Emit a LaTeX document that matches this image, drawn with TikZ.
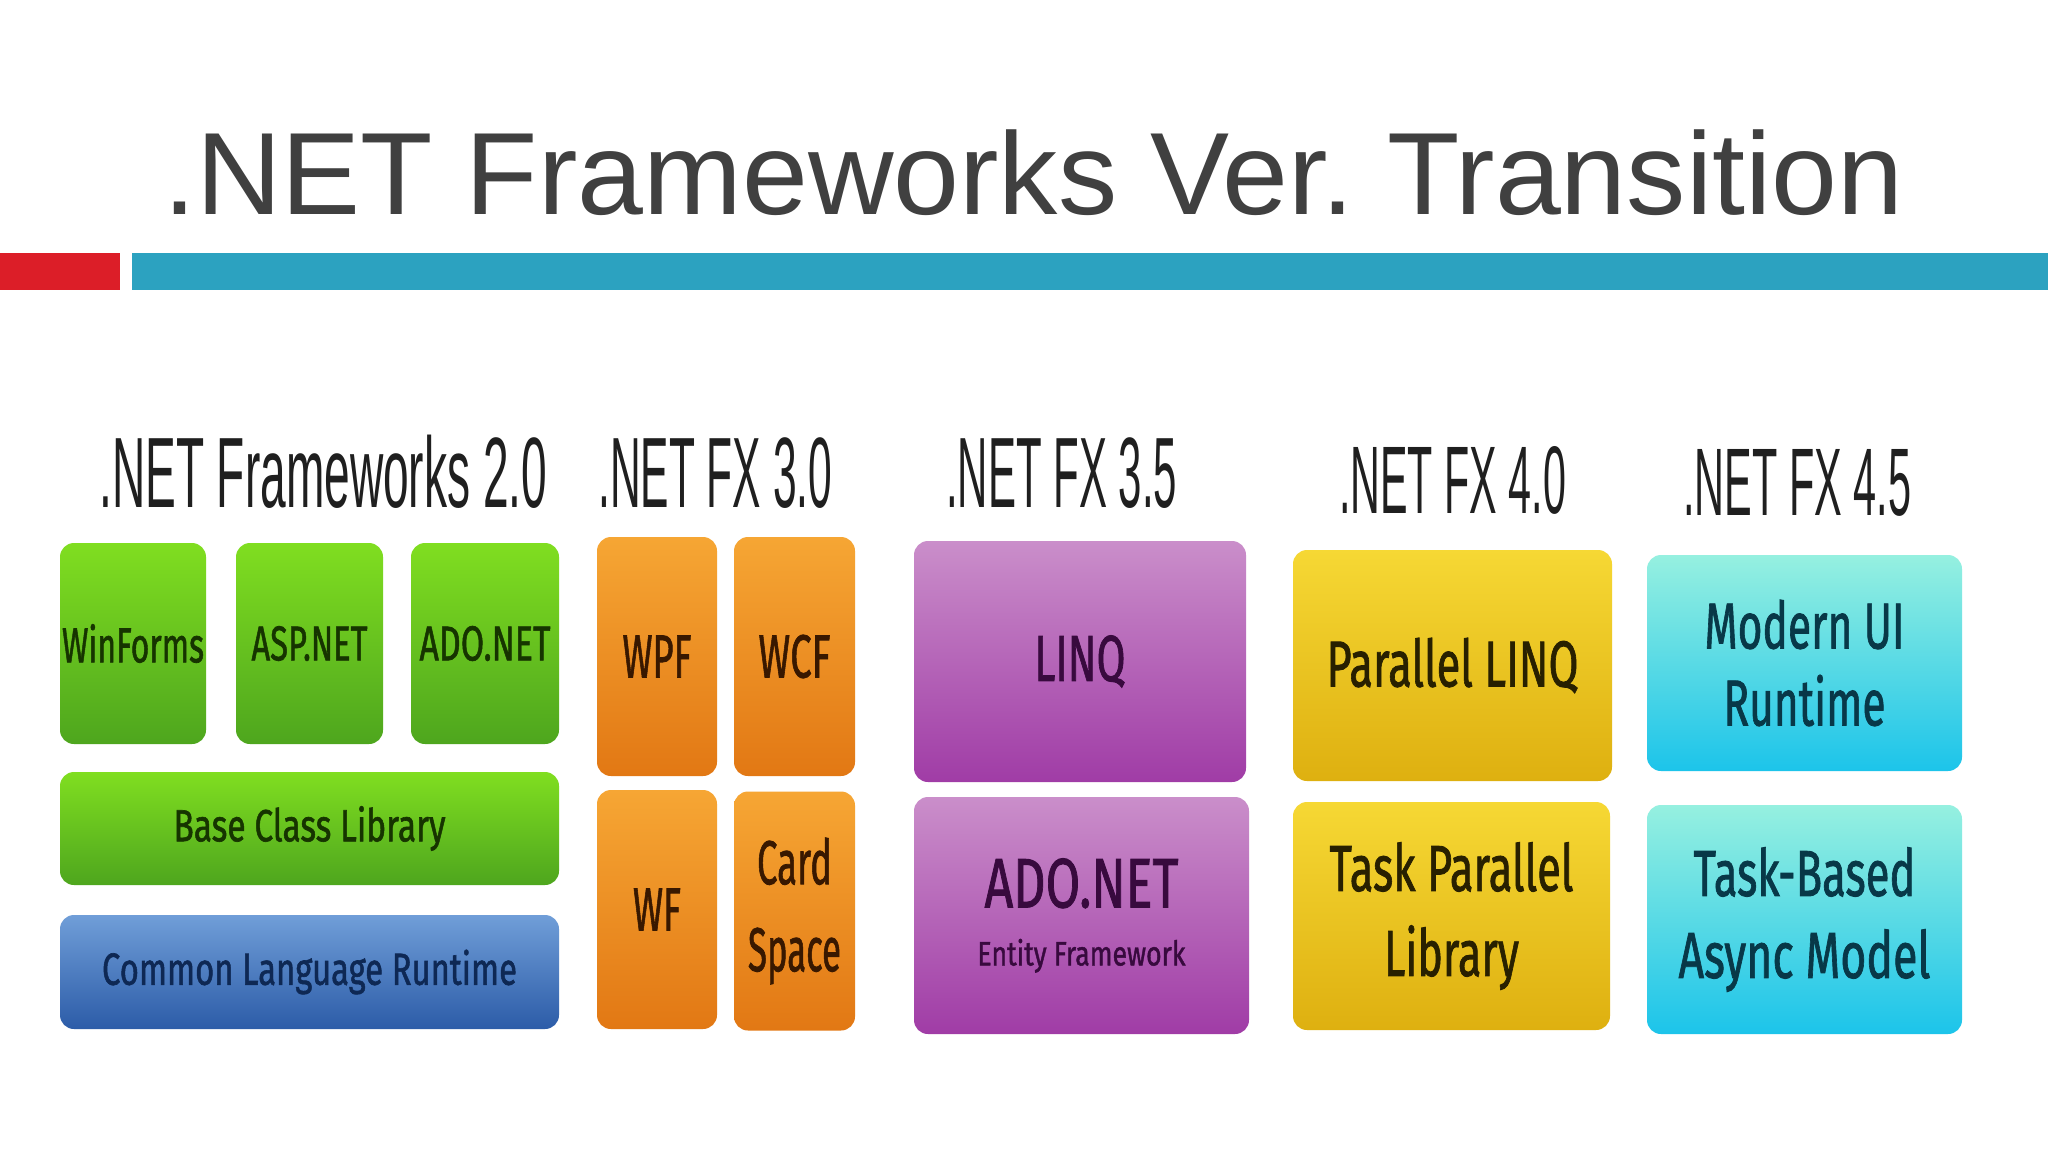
\documentclass[tikz,border=0pt]{standalone}
\usepackage{fontspec}
\usepackage{graphicx}
\setmainfont{Liberation Sans}
\newfontfamily\boxfont[FakeBold=1.4]{Fira Sans}
\newfontfamily\hdfont{Liberation Sans}
\newcommand\fw[2]{\resizebox{#1pt}{\height}{#2}}
\definecolor{titlegray}{RGB}{64,64,64}
\definecolor{barred}{RGB}{220,30,40}
\definecolor{barblue}{RGB}{44,162,192}
\definecolor{gTop}{RGB}{128,222,32}
\definecolor{gBot}{RGB}{78,166,30}
\definecolor{gTxt}{RGB}{22,52,0}
\definecolor{bTop}{RGB}{112,158,216}
\definecolor{bBot}{RGB}{44,92,168}
\definecolor{bTxt}{RGB}{14,40,84}
\definecolor{oTop}{RGB}{246,166,52}
\definecolor{oBot}{RGB}{226,120,20}
\definecolor{oTxt}{RGB}{56,24,0}
\definecolor{pTop}{RGB}{202,142,202}
\definecolor{pBot}{RGB}{160,60,166}
\definecolor{pTxt}{RGB}{56,10,62}
\definecolor{yTop}{RGB}{246,216,52}
\definecolor{yBot}{RGB}{222,176,16}
\definecolor{yTxt}{RGB}{40,32,0}
\definecolor{cTop}{RGB}{150,240,224}
\definecolor{cBot}{RGB}{28,196,234}
\definecolor{cTxt}{RGB}{8,56,72}
\tikzset{
  blk/.style={rectangle, rounded corners=14pt, inner sep=0pt, align=center},
  grn/.style={blk, top color=gTop, bottom color=gBot, text=gTxt},
  blu/.style={blk, top color=bTop, bottom color=bBot, text=bTxt},
  org/.style={blk, top color=oTop, bottom color=oBot, text=oTxt},
  ppl/.style={blk, top color=pTop, bottom color=pBot, text=pTxt},
  ylw/.style={blk, top color=yTop, bottom color=yBot, text=yTxt},
  cyn/.style={blk, top color=cTop, bottom color=cBot, text=cTxt},
  hd/.style={inner sep=0pt, anchor=base west, text=black!88, font=\hdfont\fontsize{100}{100}\selectfont},
  hdb/.style={inner sep=0pt, anchor=base west, text=black!88, font=\hdfont\fontsize{96}{96}\selectfont},
  bf/.style={font=\boxfont\fontsize{#1}{#1}\selectfont},
  bfs/.style 2 args={font=\boxfont\fontsize{#1}{#2}\selectfont}
}
\frenchspacing
\begin{document}
\begin{tikzpicture}[x=1pt,y=-1pt]
\useasboundingbox (0,0) rectangle (2048,1152);
\fill[white] (0,0) rectangle (2048,1152);

% title and bars
\node[inner sep=0pt, anchor=base west, text=titlegray, font=\fontsize{117}{117}\selectfont] (title) at (163,214) {\fw{1740}{.NET Frameworks Ver.\ Transition}};
\fill[barred] (0,253) rectangle (120,290);
\fill[barblue] (132,253) rectangle (2048,290);

% headers
\node[hd] (h20) at (99,507) {\fw{448}{.NET Frameworks 2.0}};
\node[hd] (h30) at (598,507) {\fw{234}{.NET FX 3.0}};
\node[hd] (h35) at (946,507) {\fw{231}{.NET FX 3.5}};
\node[hdb] (h40) at (1339,513) {\fw{227}{.NET FX 4.0}};
\node[hdb] (h45) at (1683,515) {\fw{228}{.NET FX 4.5}};

% .NET 2.0
\node[grn, bf=49, minimum width=146pt, minimum height=201pt] (winforms) at (133,643.5) {\fw{142}{WinForms}};
\node[grn, bf=49, minimum width=147pt, minimum height=201pt] (aspnet) at (309.5,643.5) {\fw{116}{ASP.NET}};
\node[grn, bf=49, minimum width=148pt, minimum height=201pt] (adonet) at (485,643.5) {\fw{131}{ADO.NET}};
\node[grn, bf=45, minimum width=499pt, minimum height=113pt] (bcl) at (309.5,828.5) {\fw{272}{Base Class Library}};
\node[blu, bf=45, minimum width=499pt, minimum height=114pt] (clr) at (309.5,972) {\fw{415}{Common Language Runtime}};

% .NET 3.0
\node[org, bf=61, minimum width=120pt, minimum height=239pt] (wpf) at (657,656.5) {\fw{69}{WPF}};
\node[org, bf=61, minimum width=121pt, minimum height=239pt] (wcf) at (794.5,656.5) {\fw{72}{WCF}};
\node[org, bf=61, minimum width=120pt, minimum height=239pt] (wf) at (657,909.5) {\fw{48}{WF}};
\node[org, bfs={62}{87}, minimum width=121pt, minimum height=239pt] (card) at (794.5,911) {\fw{75}{Card}\\\fw{93}{Space}};

% .NET 3.5
\node[ppl, bf=65, minimum width=332pt, minimum height=241pt] (linq) at (1080,661.5) {\fw{91}{LINQ}};
\node[ppl, bfs={70}{58}, minimum width=335pt, minimum height=237pt] (adoef) at (1081.5,915.5) {\fw{194}{ADO.NET}\\{\fontsize{34}{34}\selectfont\fw{208}{Entity Framework}}};

% .NET 4.0
\node[ylw, bf=65, minimum width=319pt, minimum height=231pt] (plinq) at (1452.5,665.5) {\fw{252}{Parallel LINQ}};
\node[ylw, bfs={65}{85}, minimum width=317pt, minimum height=228pt] (tpl) at (1451.5,916) {\fw{244}{Task Parallel}\\\fw{135}{Library}};

% .NET 4.5
\node[cyn, bfs={65}{77}, minimum width=315pt, minimum height=216pt] (modui) at (1804.5,663) {\fw{200}{Modern UI}\\\fw{162}{Runtime}};
\node[cyn, bfs={65}{82}, minimum width=315pt, minimum height=229pt] (tap) at (1804.5,919.5) {\fw{222}{Task-Based}\\\fw{252}{Async Model}};
\end{tikzpicture}
\end{document}
